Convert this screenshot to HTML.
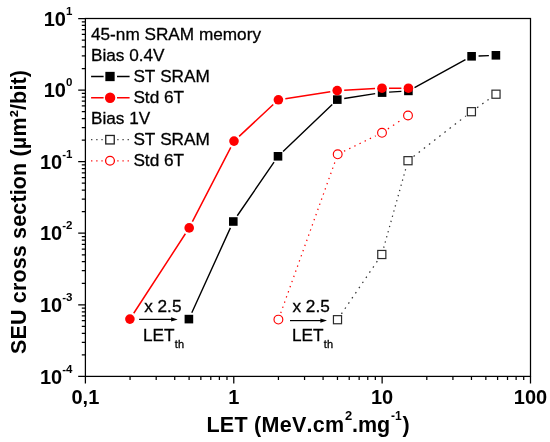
<!DOCTYPE html><html><head><meta charset="utf-8"><style>html,body{margin:0;padding:0;background:#fff;}svg{display:block;}text{font-family:"Liberation Sans", Arial, sans-serif;font-kerning:none;}text.r{stroke:#000;stroke-width:0.3px;}</style></head><body>
<svg width="550" height="442" viewBox="0 0 550 442">
<rect x="0" y="0" width="550" height="442" fill="#fff"/>
<rect x="85.4" y="18.5" width="445.1" height="357.9" fill="none" stroke="#000" stroke-width="1.25"/>
<path d="M85.40 376.4V383.60 M130.06 376.4V380.00 M156.19 376.4V380.00 M174.73 376.4V380.00 M189.10 376.4V380.00 M200.85 376.4V380.00 M210.78 376.4V380.00 M219.39 376.4V380.00 M226.98 376.4V380.00 M233.77 376.4V383.60 M278.43 376.4V380.00 M304.56 376.4V380.00 M323.09 376.4V380.00 M337.47 376.4V380.00 M349.22 376.4V380.00 M359.15 376.4V380.00 M367.76 376.4V380.00 M375.34 376.4V380.00 M382.13 376.4V383.60 M426.80 376.4V380.00 M452.92 376.4V380.00 M471.46 376.4V380.00 M485.84 376.4V380.00 M497.59 376.4V380.00 M507.52 376.4V380.00 M516.12 376.4V380.00 M523.71 376.4V380.00 M530.50 376.4V383.60 M85.4 376.40H78.20 M85.4 354.85H81.80 M85.4 342.25H81.80 M85.4 333.30H81.80 M85.4 326.37H81.80 M85.4 320.70H81.80 M85.4 315.91H81.80 M85.4 311.76H81.80 M85.4 308.10H81.80 M85.4 304.82H78.20 M85.4 283.27H81.80 M85.4 270.67H81.80 M85.4 261.72H81.80 M85.4 254.79H81.80 M85.4 249.12H81.80 M85.4 244.33H81.80 M85.4 240.18H81.80 M85.4 236.52H81.80 M85.4 233.24H78.20 M85.4 211.69H81.80 M85.4 199.09H81.80 M85.4 190.14H81.80 M85.4 183.21H81.80 M85.4 177.54H81.80 M85.4 172.75H81.80 M85.4 168.60H81.80 M85.4 164.94H81.80 M85.4 161.66H78.20 M85.4 140.11H81.80 M85.4 127.51H81.80 M85.4 118.56H81.80 M85.4 111.63H81.80 M85.4 105.96H81.80 M85.4 101.17H81.80 M85.4 97.02H81.80 M85.4 93.36H81.80 M85.4 90.08H78.20 M85.4 68.53H81.80 M85.4 55.93H81.80 M85.4 46.98H81.80 M85.4 40.05H81.80 M85.4 34.38H81.80 M85.4 29.59H81.80 M85.4 25.44H81.80 M85.4 21.78H81.80 M85.4 18.50H78.20" stroke="#000" stroke-width="1.25" fill="none"/>
<text x="72.5" y="25.6" text-anchor="end" font-size="20" font-weight="bold">10<tspan font-size="11.5" dx="0.1" dy="-11">1</tspan></text>
<text x="72.5" y="97.2" text-anchor="end" font-size="20" font-weight="bold">10<tspan font-size="11.5" dx="0.1" dy="-11">0</tspan></text>
<text x="72.5" y="168.8" text-anchor="end" font-size="20" font-weight="bold">10<tspan font-size="11.5" dx="0.1" dy="-11">-1</tspan></text>
<text x="72.5" y="240.3" text-anchor="end" font-size="20" font-weight="bold">10<tspan font-size="11.5" dx="0.1" dy="-11">-2</tspan></text>
<text x="72.5" y="311.9" text-anchor="end" font-size="20" font-weight="bold">10<tspan font-size="11.5" dx="0.1" dy="-11">-3</tspan></text>
<text x="72.5" y="383.5" text-anchor="end" font-size="20" font-weight="bold">10<tspan font-size="11.5" dx="0.1" dy="-11">-4</tspan></text>
<text x="85.4" y="404.2" text-anchor="middle" font-size="20" font-weight="bold">0,1</text>
<text x="233.8" y="404.2" text-anchor="middle" font-size="20" font-weight="bold">1</text>
<text x="382.1" y="404.2" text-anchor="middle" font-size="20" font-weight="bold">10</text>
<text x="530.5" y="404.2" text-anchor="middle" font-size="20" font-weight="bold">100</text>
<text x="206.4" y="432" font-size="21.5" font-weight="bold"><tspan letter-spacing="0.27">LET (MeV.cm</tspan><tspan font-size="13" x="345" y="420">2</tspan><tspan x="352" y="432">.mg</tspan><tspan font-size="12" x="391" y="420">-1</tspan><tspan x="402.4" y="432">)</tspan></text>
<text transform="translate(25.8 354) rotate(-90) scale(1 1.06)" x="0" y="0" font-size="21.5" font-weight="bold" letter-spacing="0.16">SEU cross section (µm²/bit)</text>
<path d="M341.43 313.91L377.87 260.29" stroke="#333" stroke-width="1.25" stroke-dasharray="1.51 4.72" fill="none"/>
<path d="M383.68 247.76L406.12 167.44" stroke="#333" stroke-width="1.25" stroke-dasharray="1.30 4.05" fill="none"/>
<path d="M413.54 156.42L465.86 115.98" stroke="#333" stroke-width="1.25" stroke-dasharray="1.58 4.93" fill="none"/>
<path d="M477.10 107.64L490.30 98.26" stroke="#333" stroke-width="1.25" stroke-dasharray="1.53 4.79" fill="none"/>
<path d="M280.76 313.01L335.34 160.89" stroke="#f00" stroke-width="1.25" stroke-dasharray="1.33 4.14" fill="none"/>
<path d="M344.00 151.24L375.70 135.86" stroke="#f00" stroke-width="1.25" stroke-dasharray="1.39 4.34" fill="none"/>
<path d="M387.83 128.92L402.17 119.38" stroke="#f00" stroke-width="1.25" stroke-dasharray="1.50 4.68" fill="none"/>
<path d="M191.80 312.73L230.40 227.87 M237.26 215.73L274.04 162.07 M283.06 151.46L332.24 104.44 M344.22 98.52L375.18 93.68 M389.09 92.15L401.41 91.35 M414.54 87.54L465.46 59.66 M478.59 56.01L488.91 55.59" stroke="#000" stroke-width="1.4" fill="none"/>
<path d="M133.72 313.23L185.38 233.77 M192.41 221.68L230.79 147.32 M239.13 136.33L273.27 104.57 M285.32 98.72L330.28 91.68 M344.19 90.23L375.01 88.57 M389.00 88.20L401.40 88.20" stroke="#f00" stroke-width="1.5" fill="none"/>
<rect x="333.45" y="315.65" width="8.1" height="8.1" fill="#fff" stroke="#2a2a2a" stroke-width="1.2"/>
<rect x="377.75" y="250.45" width="8.1" height="8.1" fill="#fff" stroke="#2a2a2a" stroke-width="1.2"/>
<rect x="403.95" y="156.65" width="8.1" height="8.1" fill="#fff" stroke="#2a2a2a" stroke-width="1.2"/>
<rect x="467.35" y="107.65" width="8.1" height="8.1" fill="#fff" stroke="#2a2a2a" stroke-width="1.2"/>
<rect x="491.95" y="90.15" width="8.1" height="8.1" fill="#fff" stroke="#2a2a2a" stroke-width="1.2"/>
<circle cx="278.4" cy="319.6" r="4.4" fill="#fff" stroke="#f00" stroke-width="1.15"/>
<circle cx="337.7" cy="154.3" r="4.4" fill="#fff" stroke="#f00" stroke-width="1.15"/>
<circle cx="382" cy="132.8" r="4.4" fill="#fff" stroke="#f00" stroke-width="1.15"/>
<circle cx="408" cy="115.5" r="4.4" fill="#fff" stroke="#f00" stroke-width="1.15"/>
<rect x="184.60" y="314.80" width="8.6" height="8.6" fill="#000"/>
<rect x="229.00" y="217.20" width="8.6" height="8.6" fill="#000"/>
<rect x="273.70" y="152.00" width="8.6" height="8.6" fill="#000"/>
<rect x="333.00" y="95.30" width="8.6" height="8.6" fill="#000"/>
<rect x="377.80" y="88.30" width="8.6" height="8.6" fill="#000"/>
<rect x="404.10" y="86.60" width="8.6" height="8.6" fill="#000"/>
<rect x="467.30" y="52.00" width="8.6" height="8.6" fill="#000"/>
<rect x="491.60" y="51.00" width="8.6" height="8.6" fill="#000"/>
<circle cx="129.9" cy="319.1" r="4.8" fill="#f00"/>
<circle cx="189.2" cy="227.9" r="4.8" fill="#f00"/>
<circle cx="234" cy="141.1" r="4.8" fill="#f00"/>
<circle cx="278.4" cy="99.8" r="4.8" fill="#f00"/>
<circle cx="337.2" cy="90.6" r="4.8" fill="#f00"/>
<circle cx="382" cy="88.2" r="4.8" fill="#f00"/>
<circle cx="408.4" cy="88.2" r="4.8" fill="#f00"/>
<text x="91.0" y="39.6" font-size="17.2" class="r">45-nm SRAM memory</text>
<text x="91.0" y="60.7" font-size="17.2" class="r">Bias 0.4V</text>
<text x="91.0" y="124.0" font-size="17.2" class="r">Bias 1V</text>
<text x="133.4" y="81.8" font-size="17.2" class="r">ST SRAM</text>
<text x="133.4" y="102.9" font-size="17.2" class="r">Std 6T</text>
<text x="133.4" y="145.1" font-size="17.2" class="r">ST SRAM</text>
<text x="133.4" y="166.2" font-size="17.2" class="r">Std 6T</text>
<path d="M91.1 76.5H103.6M117 76.5H129.6" stroke="#000" stroke-width="1.4"/>
<rect x="105.35" y="71.85" width="9.3" height="9.3" fill="#000"/>
<path d="M91.1 97.7H103.6M117 97.7H129.6" stroke="#f00" stroke-width="1.5"/>
<circle cx="110.1" cy="97.7" r="5.2" fill="#f00"/>
<path d="M91.1 139.7H103.2M117.3 139.7H129.6" stroke="#333" stroke-width="1.25" stroke-dasharray="1.25 3.9"/>
<rect x="105.75" y="135.45" width="8.5" height="8.5" fill="#fff" stroke="#222" stroke-width="1.3"/>
<path d="M91.1 160.8H103.2M117.3 160.8H129.6" stroke="#f00" stroke-width="1.25" stroke-dasharray="1.25 3.9"/>
<circle cx="110" cy="160.8" r="4.4" fill="#fff" stroke="#f00" stroke-width="1.3"/>
<path d="M139.1 319.4H172.7" stroke="#000" stroke-width="1.2"/>
<path d="M171.1 317.3L177.7 319.4L171.1 321.5Z" fill="#000"/>
<text x="144.2" y="311.8" font-size="17.2" class="r">x 2.5</text>
<text x="143.0" y="340.6" font-size="17.2" class="r">LET<tspan font-size="11" dx="0.3" dy="7">th</tspan></text>
<path d="M290.0 320.6H322.0" stroke="#000" stroke-width="1.2"/>
<path d="M320.4 318.5L327.0 320.6L320.4 322.7Z" fill="#000"/>
<text x="292.5" y="311.8" font-size="17.2" class="r">x 2.5</text>
<text x="292.0" y="340.6" font-size="17.2" class="r">LET<tspan font-size="11" dx="0.3" dy="7">th</tspan></text>
</svg></body></html>
